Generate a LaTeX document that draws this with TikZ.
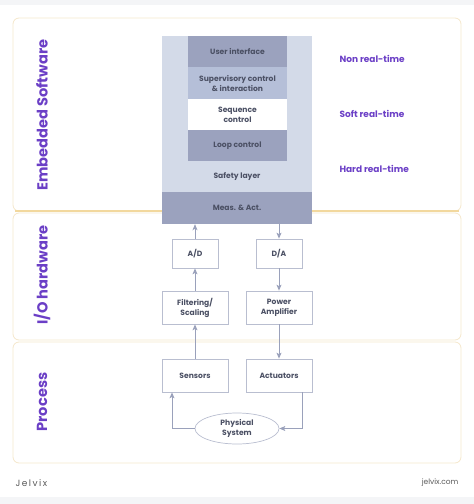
\documentclass[tikz,border=0pt]{standalone}
\usepackage{fontspec}
\setmainfont{Poppins}
\usetikzlibrary{shapes.geometric,arrows.meta}
\definecolor{panelborder}{HTML}{F4E7CB}
\definecolor{junction}{HTML}{F2D89E}
\definecolor{stackbg}{HTML}{D3DAE8}
\definecolor{darkblk}{HTML}{9BA2BE}
\definecolor{midblk}{HTML}{B5BFD8}
\definecolor{txt}{HTML}{4B5064}
\definecolor{purp}{HTML}{6B3FC6}
\definecolor{boxline}{HTML}{B9BED0}
\definecolor{arrcol}{HTML}{9AA1BB}
\definecolor{strip}{HTML}{F4F5F7}
\definecolor{foot}{HTML}{5A5A5A}
\tikzset{
  panel/.style={draw=panelborder, line width=0.8pt, rounded corners=6pt},
  layer/.style={minimum width=99pt, inner sep=0pt, font=\fontsize{7.6}{10}\selectfont\bfseries, text=txt, align=center},
  iobox/.style={draw=boxline, line width=0.7pt, fill=white, inner sep=0pt, font=\fontsize{7.6}{10}\selectfont\bfseries, text=txt, align=center},
  arr/.style={draw=arrcol, line width=0.9pt, -{Stealth[length=6pt,width=5pt,inset=1.5pt]}},
  sidelabel/.style={rotate=90, text=purp, font=\fontsize{14.6}{16}\selectfont\bfseries},
  rtlabel/.style={anchor=west, text=purp, font=\fontsize{9}{10}\selectfont\bfseries},
}
\begin{document}
\begin{tikzpicture}[x=1pt,y=-1pt]
\useasboundingbox (0,0) rectangle (474,504);
\fill[strip] (0,0) rectangle (474,5);
\fill[strip] (0,497) rectangle (474,504);
% panels
\draw[panel] (13,18) rectangle (461,211);
\draw[panel] (13,213) rectangle (461,340);
\draw[panel] (13,342) rectangle (461,463);
\draw[junction, line width=1.2pt] (15,211) -- (459,211);
% stack background
\fill[stackbg] (162,36) rectangle (312,192);
\node[layer, fill=darkblk, minimum height=31pt] (ui) at (237.5,51.5) {User interface};
\node[layer, fill=midblk, minimum height=32pt] (sup) at (237.5,83) {Supervisory control\\\& interaction};
\node[layer, fill=white, minimum height=31pt] (seq) at (237.5,114.5) {Sequence\\control};
\node[layer, fill=darkblk, minimum height=31pt] (loop) at (237.5,145.5) {Loop control};
\node[layer] (safe) at (237,177) {Safety layer};
\node[layer, fill=darkblk, minimum width=150pt, minimum height=32pt] (meas) at (237,208) {Meas. \& Act.};
% side labels
\node[sidelabel] (es) at (42,115) {Embedded Software};
\node[sidelabel] (io) at (42,275) {I/O hardware};
\node[sidelabel] (pr) at (42,402) {Process};
% right labels
\node[rtlabel] (nrt) at (336,59) {Non real-time};
\node[rtlabel] (srt) at (336,114) {Soft real-time};
\node[rtlabel] (hrt) at (336,169) {Hard real-time};
% I/O boxes
\node[iobox, minimum width=46pt, minimum height=29pt] (ad) at (195,253.5) {A/D};
\node[iobox, minimum width=46pt, minimum height=29pt] (da) at (279,253.5) {D/A};
\node[iobox, minimum width=66pt, minimum height=33pt] (filt) at (195,307.5) {Filtering/\\Scaling};
\node[iobox, minimum width=66pt, minimum height=33pt] (pow) at (279,307.5) {Power\\Amplifier};
\node[iobox, minimum width=66pt, minimum height=33pt] (sens) at (195,375.5) {Sensors};
\node[iobox, minimum width=66pt, minimum height=33pt] (act) at (279,375.5) {Actuators};
\node[iobox, ellipse, minimum width=84pt, minimum height=31pt] (phys) at (237,428.5) {Physical\\System};
% arrows
\draw[arr] (ad.north) -- (ad.north |- meas.south);
\draw[arr] (filt.north) -- (ad.south);
\draw[arr] (sens.north) -- (filt.south);
\draw[arr] (da.north |- meas.south) -- (da.north);
\draw[arr] (da.south) -- (pow.north);
\draw[arr] (pow.south) -- (act.north);
\draw[arr] (phys.west) -| ([xshift=-23pt]sens.south);
\draw[arr] ([xshift=23pt]act.south) |- (phys.east);
% footer
\node[anchor=west, text=foot, font=\fontsize{9}{10}\selectfont] (brand) at (12,483) {J\,e\,l\,v\,i\,x};
\node[anchor=east, text=foot, font=\fontsize{7.5}{9}\selectfont] (url) at (462,483) {jelvix.com};
\end{tikzpicture}
\end{document}
